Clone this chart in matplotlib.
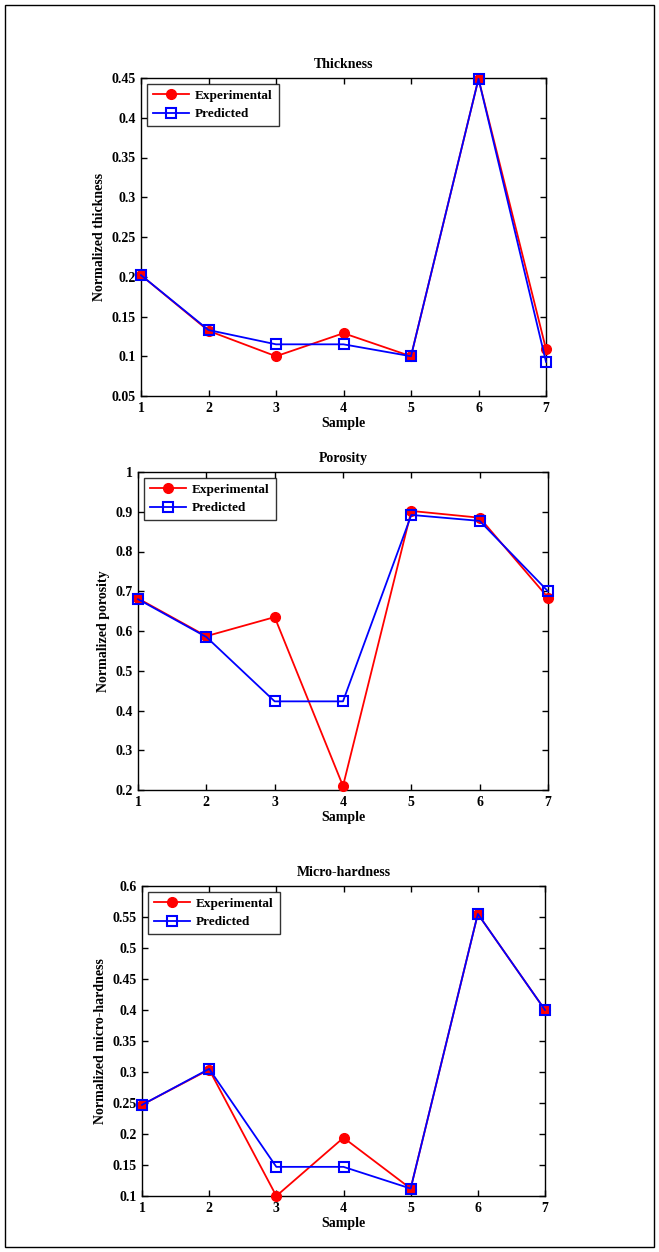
import matplotlib
matplotlib.use("Agg")
import matplotlib.pyplot as plt
from matplotlib.ticker import FuncFormatter
from matplotlib.patches import Rectangle

samples = [1, 2, 3, 4, 5, 6, 7]

thick_exp = [0.202, 0.132, 0.100, 0.129, 0.100, 0.449, 0.109]
thick_pred = [0.202, 0.133, 0.115, 0.115, 0.100, 0.449, 0.093]

poro_exp = [0.682, 0.587, 0.635, 0.210, 0.902, 0.885, 0.684]
poro_pred = [0.680, 0.585, 0.423, 0.423, 0.892, 0.877, 0.700]

hard_exp = [0.247, 0.304, 0.100, 0.194, 0.112, 0.555, 0.400]
hard_pred = [0.247, 0.305, 0.147, 0.147, 0.112, 0.555, 0.400]

titles = ["Thickness", "Porosity", "Micro-hardness"]
ylabels = ["Normalized thickness", "Normalized porosity", "Normalized micro-hardness"]
yticks_list = [
    [0.05, 0.1, 0.15, 0.2, 0.25, 0.3, 0.35, 0.4, 0.45],
    [0.2, 0.3, 0.4, 0.5, 0.6, 0.7, 0.8, 0.9, 1.0],
    [0.1, 0.15, 0.2, 0.25, 0.3, 0.35, 0.4, 0.45, 0.5, 0.55, 0.6],
]
ylims = [(0.05, 0.45), (0.2, 1.0), (0.1, 0.6)]

plt.rcParams['font.family'] = ['Liberation Serif', 'DejaVu Serif']
plt.rcParams['font.weight'] = 'bold'

W, H = 659, 1252
fig = plt.figure(figsize=(W / 100, H / 100), dpi=100)

# axes boxes in pixels: (left, right, top, bottom)
boxes = [(141, 546, 78, 396), (138, 548, 472, 790), (142, 545, 886, 1196)]

fmt = FuncFormatter(lambda v, p: ('%g' % round(v, 4)))

data = [(thick_exp, thick_pred), (poro_exp, poro_pred), (hard_exp, hard_pred)]

for i, (l, r, t, b) in enumerate(boxes):
    ax = fig.add_axes([l / W, 1 - b / H, (r - l) / W, (b - t) / H])
    exp, pred = data[i]
    ax.plot(samples, exp, color='#ff0000', marker='o', markersize=7,
            linewidth=1.3, label='Experimental', clip_on=False, zorder=3)
    ax.plot(samples, pred, color='#0000ff', marker='s', markersize=7,
            markerfacecolor='none', markeredgewidth=1.5,
            linewidth=1.3, label='Predicted', clip_on=False, zorder=4)
    ax.set_xlim(1, 7)
    ax.set_ylim(*ylims[i])
    ax.set_xticks(samples)
    ax.set_yticks(yticks_list[i])
    ax.yaxis.set_major_formatter(fmt)
    ax.tick_params(direction='in', top=True, right=True, length=4, width=1,
                   labelsize=10, pad=4)
    for lab in ax.get_xticklabels() + ax.get_yticklabels():
        lab.set_fontweight('bold')
    for s in ax.spines.values():
        s.set_linewidth(1.0)
    ax.set_title(titles[i], fontsize=10, fontweight='bold', pad=7)
    ax.set_xlabel('Sample', fontsize=10, fontweight='bold', labelpad=2)
    ax.set_ylabel(ylabels[i], fontsize=10, fontweight='bold', labelpad=4)
    leg = ax.legend(loc='upper left', fontsize=9.5, frameon=True, fancybox=False,
                    edgecolor='black', borderpad=0.45, handlelength=2.7,
                    handletextpad=0.5, labelspacing=0.45, borderaxespad=0.45)
    leg.get_frame().set_linewidth(1.0)
    for txt in leg.get_texts():
        txt.set_fontweight('bold')

fig.patches.append(Rectangle((5 / W, 5 / H), (W - 10) / W, (H - 10) / H,
                             transform=fig.transFigure, fill=False,
                             edgecolor='black', linewidth=1.0))

fig.savefig('out.png', dpi=100)
